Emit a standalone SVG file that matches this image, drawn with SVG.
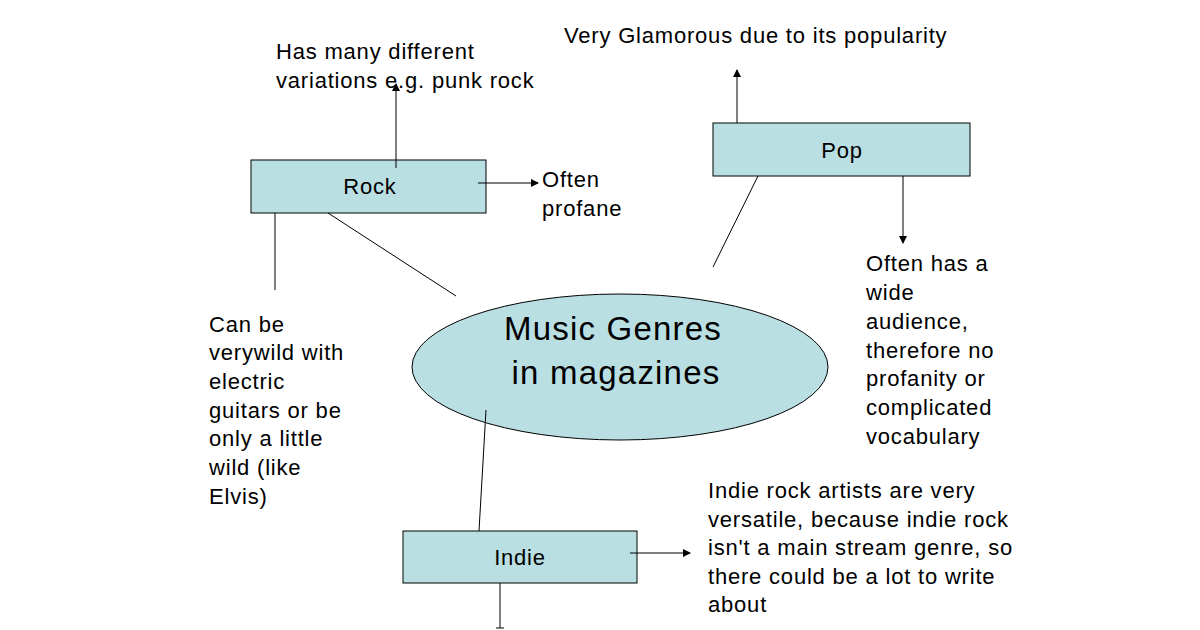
<svg xmlns="http://www.w3.org/2000/svg" width="1200" height="630" viewBox="0 0 1200 630">
<defs>
<marker id="ah" markerWidth="8" markerHeight="8" refX="7" refY="4" orient="auto" markerUnits="userSpaceOnUse"><path d="M0,0 L8,4 L0,8 z" fill="#000"/></marker>
<style>
.box{fill:#b9dfe3;stroke:#000;stroke-width:1}
.ln{stroke:#000;stroke-width:1;fill:none}
.ar{stroke:#000;stroke-width:1;fill:none;marker-end:url(#ah)}
text{font-family:"Liberation Sans",Arial,sans-serif;font-size:22px;letter-spacing:0.8px;fill:#000}
.t{font-size:33px;letter-spacing:1.2px}
</style>
</defs>
<rect width="1200" height="630" fill="#fff"/>
<g id="center"><ellipse cx="620" cy="367" rx="208" ry="73" class="box"/>
<text class="t" x="613" y="340" text-anchor="middle">Music Genres</text>
<text class="t" x="616" y="384" text-anchor="middle">in magazines</text></g>
<g id="rock"><rect class="box" x="251" y="160" width="235" height="53"/><text x="370" y="194" text-anchor="middle">Rock</text></g>
<g id="pop"><rect class="box" x="713" y="123" width="257" height="53"/><text x="842" y="158" text-anchor="middle">Pop</text></g>
<g id="indie"><rect class="box" x="403" y="531" width="234" height="52"/><text x="520" y="565" text-anchor="middle">Indie</text></g>
<g id="connectors">
<line class="ar" x1="396" y1="168" x2="396" y2="84"/>
<line class="ar" x1="478" y1="183" x2="538" y2="183"/>
<line class="ln" x1="275" y1="213" x2="275" y2="290"/>
<line class="ln" x1="328" y1="213" x2="456" y2="296"/>
<line class="ar" x1="737" y1="123" x2="737" y2="70"/>
<line class="ar" x1="903" y1="176" x2="903" y2="243"/>
<line class="ln" x1="758" y1="176" x2="713" y2="267"/>
<line class="ln" x1="486" y1="410" x2="479" y2="531"/>
<line class="ar" x1="630" y1="553" x2="690" y2="553"/>
<line class="ln" x1="500" y1="583" x2="500" y2="628"/>
<line class="ln" x1="496" y1="628" x2="504" y2="628"/>
</g>
<g id="rock-notes">
<text x="276" y="59">Has many different</text><text x="276" y="88">variations e.g. punk rock</text>
<text x="542" y="187">Often</text><text x="542" y="216">profane</text>
<text x="209" y="332">Can be</text><text x="209" y="360">verywild with</text><text x="209" y="389">electric</text><text x="209" y="418">guitars or be</text><text x="209" y="446">only a little</text><text x="209" y="475">wild (like</text><text x="209" y="504">Elvis)</text>
</g>
<g id="pop-notes">
<text x="564" y="43">Very Glamorous due to its popularity</text>
<text x="866" y="271">Often has a</text><text x="866" y="300">wide</text><text x="866" y="329">audience,</text><text x="866" y="358">therefore no</text><text x="866" y="386">profanity or</text><text x="866" y="415">complicated</text><text x="866" y="444">vocabulary</text>
</g>
<g id="indie-notes">
<text x="708" y="498">Indie rock artists are very</text><text x="708" y="527">versatile, because indie rock</text><text x="708" y="555">isn't a main stream genre, so</text><text x="708" y="584">there could be a lot to write</text><text x="708" y="612">about</text>
</g>
</svg>
